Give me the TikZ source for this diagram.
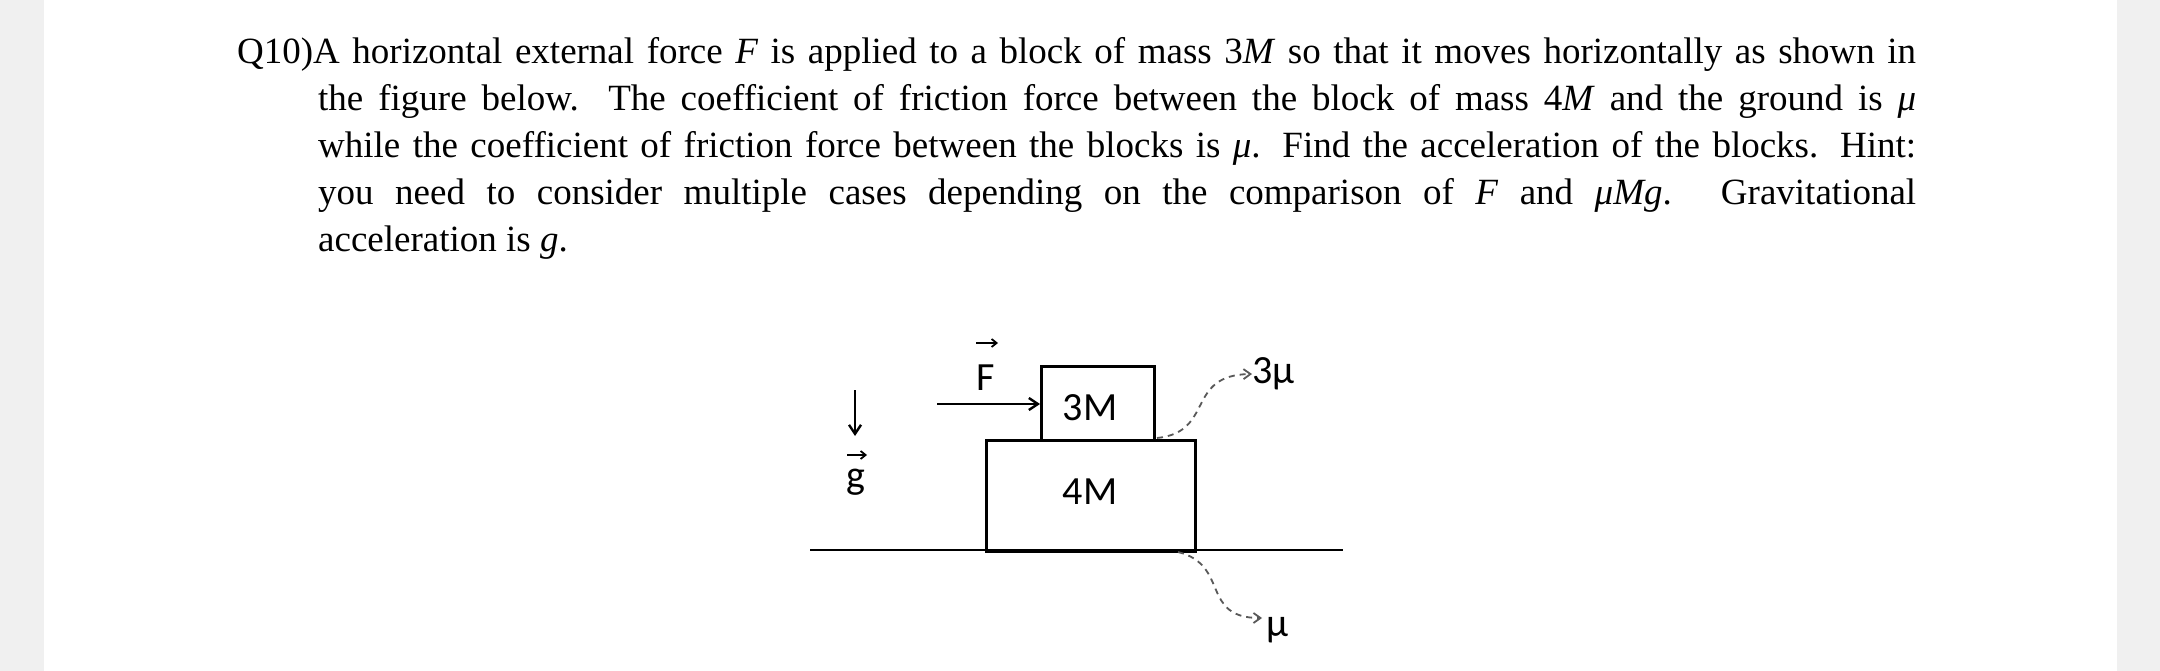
\documentclass[tikz,border=0pt]{standalone}
\usepackage{fontspec}
\setmainfont{Liberation Serif}
\newfontfamily\figfont{Carlito}
\usetikzlibrary{arrows.meta}
\begin{document}
\begin{tikzpicture}[x=1pt,y=-1pt,
  blk/.style={draw,line width=2.6pt},
  lbl/.style={font=\figfont\fontsize{40}{40}\selectfont,inner sep=0pt},
  frc/.style={line width=2.4pt,-{Straight Barb[length=9pt,width=12pt]}},
  fric/.style={line width=1.8pt,gray!70!black,dash pattern=on 6pt off 5pt,-{Straight Barb[length=7pt,width=10pt]}}]
\fill[gray!12] (0,0) rectangle (2160,671);
\fill[white] (44,0) rectangle (2117,671);
\useasboundingbox (0,0) rectangle (2160,671);
\node[anchor=north west,inner sep=0pt,text width=1679pt,align=justify] (txt) at (237,37)
 {\fontsize{37}{47}\selectfont\hangindent=81pt\hangafter=1
 Q10)A horizontal external force \textit{F} is applied to a block of mass 3\textit{M} so that it moves horizontally as shown in\linebreak
 the figure below. The coefficient of friction force between the block of mass 4\textit{M} and the ground is \textit{μ}\linebreak
 while the coefficient of friction force between the blocks is \textit{μ}. Find the acceleration of the blocks. Hint:\linebreak
 you need to consider multiple cases depending on the comparison of \textit{F} and \textit{μMg}. Gravitational\linebreak
 acceleration is \textit{g}.\par};
% ground
\coordinate (gl) at (810,550);
\coordinate (gr) at (1343,550);
\draw[line width=2.6pt] (gl) -- (gr);
% blocks
\node[blk,minimum width=209pt,minimum height=111pt,anchor=north west,inner sep=0pt] (b4) at (985,439) {};
\node[blk,minimum width=113pt,minimum height=74pt,anchor=north west,inner sep=0pt] (b3) at (1040,365) {};
\node[lbl] (t3) at (1090,408) {3M};
\node[lbl] (t4) at (1090,492) {4M};
% force F
\coordinate (fs) at (937,404);
\draw[frc] (fs) -- (b3.west |- fs);
\node[lbl] (tF) at (986,378) {F};
\draw[line width=1.8pt,-{Straight Barb[length=5pt,width=8pt]}] (976,343) -- (998,343);
% gravity
\coordinate (gs) at (855,390);
\coordinate (ge) at (855,436);
\draw[frc] (gs) -- (ge);
\node[lbl] (tg) at (856,482) {g};
\draw[line width=1.8pt,-{Straight Barb[length=5pt,width=8pt]}] (847,455) -- (867,455);
% friction labels
\node[lbl,anchor=west] (t3mu) at (1252,374) {3μ};
\node[lbl,anchor=west] (tmu) at (1266,630) {μ};
\coordinate (c1) at (1157,438);
\coordinate (c2) at (1178,552);
\draw[fric] (c1) .. controls (1215,432) and (1185,375) .. (t3mu.west);
\draw[fric] (c2) .. controls (1230,565) and (1200,618) .. (1262,618);
\end{tikzpicture}
\end{document}
